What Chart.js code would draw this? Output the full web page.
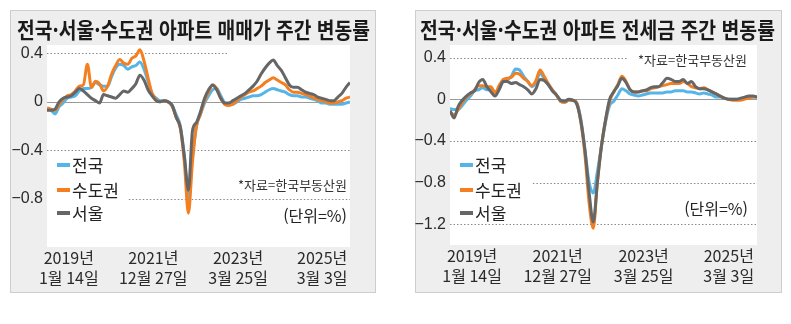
<!DOCTYPE html>
<html lang="ko">
<head>
<meta charset="utf-8">
<script src="https://cdn.jsdelivr.net/npm/chart.js@4.4.1/dist/chart.umd.min.js"></script>
<style>
  body { margin: 0; width: 791px; height: 324px; background: #fff; position: relative; overflow: hidden;
         font-family: "Noto Sans CJK KR", sans-serif; color: #222; }
  .panel { position: absolute; top: 10px; height: 283px; background: #eeeeee; border: 1px solid #cdcdcd; box-sizing: border-box; }
  canvas { position: absolute; top: 10px; }
  .title { position: absolute; top: 13px; font-size: 22px; line-height: 30px; font-weight: 700; color: #1a1a1a;
           white-space: nowrap; transform-origin: left center; }
  .txt { position: absolute; white-space: nowrap; line-height: 1; }
  .legend .item { position: absolute; font-size: 17px; line-height: 17px; color: #222; white-space: nowrap; }
  .legend .mark { position: absolute; top: 7px; width: 13px; height: 4px; }
</style>
</head>
<body>

<div class="panel" style="left:10px; width:366px;"></div>
<div class="panel" style="left:415px; width:367px;"></div>
<canvas id="saleChart" style="left:10px;" width="366" height="283"></canvas>
<canvas id="jeonseChart" style="left:415px;" width="367" height="283"></canvas>

<div class="title" id="saleTitle" style="left:17px;" data-w="353">전국·서울·수도권 아파트 매매가 주간 변동률</div>
<div class="title" id="jeonseTitle" style="left:420px;" data-w="355">전국·서울·수도권 아파트 전세금 주간 변동률</div>

<div class="legend" id="saleLegend" style="position:absolute; left:57px; top:156px;"></div>
<div class="legend" id="jeonseLegend" style="position:absolute; left:460px; top:156px;"></div>

<div class="txt" style="right:444px; top:178px; font-size:13px; color:#333;">*자료=한국부동산원</div>
<div class="txt" style="right:444px; top:207px; font-size:16px; color:#222;">(단위=%)</div>
<div class="txt" style="right:44px; top:53px; font-size:13px; color:#333;">*자료=한국부동산원</div>
<div class="txt" style="right:43px; top:200px; font-size:16px; color:#222;">(단위=%)</div>

<script>
const seriesNames = ['전국', '수도권', '서울'];
const seriesColors = ['#55b5e8', '#f47f20', '#666666'];

// weekly change rate (%), 매매가
const saleNational = [-0.06, -0.07, -0.10, -0.04, -0.01, 0.03, 0.04, 0.05, 0.09, 0.11, 0.11, 0.12, 0.16, 0.14, 0.13, 0.13,
  0.21, 0.28, 0.31, 0.30, 0.27, 0.29, 0.30, 0.33, 0.27, 0.17, 0.07, 0.03, 0.01, 0.01, 0.00, -0.03,
  -0.11, -0.20, -0.45, -0.80, -0.45, -0.20, -0.10, -0.01, 0.05, 0.10, 0.11, 0.05, -0.01, -0.02, -0.02, 0.00,
  0.02, 0.03, 0.04, 0.05, 0.05, 0.06, 0.08, 0.10, 0.11, 0.10, 0.09, 0.08, 0.06, 0.05, 0.05, 0.04,
  0.04, 0.03, 0.02, 0.01, -0.01, -0.01, -0.02, -0.02, -0.02, -0.02, -0.01, 0.00];
const saleCapital = [-0.05, -0.06, -0.07, -0.02, 0.02, 0.05, 0.06, 0.09, 0.13, 0.14, 0.31, 0.12, 0.17, 0.15, 0.09, 0.13,
  0.23, 0.30, 0.35, 0.32, 0.31, 0.36, 0.38, 0.43, 0.34, 0.20, 0.07, 0.02, 0.00, 0.01, 0.00, -0.04,
  -0.13, -0.22, -0.50, -0.92, -0.50, -0.20, -0.10, 0.01, 0.08, 0.14, 0.11, 0.03, -0.02, -0.03, -0.02, 0.01,
  0.04, 0.06, 0.08, 0.09, 0.11, 0.13, 0.16, 0.18, 0.20, 0.18, 0.16, 0.14, 0.10, 0.08, 0.08, 0.07,
  0.06, 0.05, 0.03, 0.02, 0.01, 0.00, -0.01, -0.01, 0.00, 0.01, 0.03, 0.04];
const saleSeoul = [-0.07, -0.07, -0.06, 0.00, 0.03, 0.04, 0.05, 0.08, 0.11, 0.09, 0.06, 0.03, 0.01, -0.01, 0.06, 0.05,
  0.04, 0.03, 0.06, 0.09, 0.08, 0.11, 0.15, 0.22, 0.18, 0.10, 0.05, 0.01, 0.00, 0.01, 0.00, -0.03,
  -0.13, -0.21, -0.45, -0.73, -0.24, -0.17, -0.08, 0.03, 0.10, 0.14, 0.10, 0.03, -0.01, -0.01, 0.01, 0.03,
  0.05, 0.07, 0.10, 0.13, 0.17, 0.23, 0.28, 0.32, 0.345, 0.30, 0.26, 0.20, 0.14, 0.12, 0.12, 0.10,
  0.08, 0.07, 0.06, 0.04, 0.03, 0.02, 0.01, 0.01, 0.04, 0.07, 0.12, 0.16];

// weekly change rate (%), 전세금
const jeonseNational = [-0.09, -0.10, -0.10, -0.06, -0.01, 0.03, 0.08, 0.09, 0.11, 0.09, 0.10, 0.07, 0.10, 0.17, 0.19, 0.22,
  0.29, 0.28, 0.22, 0.17, 0.12, 0.16, 0.25, 0.20, 0.14, 0.09, 0.04, -0.02, -0.03, -0.01, -0.01, -0.04,
  -0.20, -0.50, -0.80, -0.90, -0.70, -0.45, -0.22, -0.06, -0.02, 0.04, 0.10, 0.08, 0.05, 0.04, 0.03, 0.04,
  0.05, 0.06, 0.06, 0.06, 0.06, 0.07, 0.07, 0.08, 0.08, 0.08, 0.07, 0.07, 0.06, 0.05, 0.06, 0.05,
  0.04, 0.02, 0.02, 0.01, 0.00, 0.00, 0.00, 0.00, 0.01, 0.02, 0.02, 0.02];
const jeonseCapital = [-0.12, -0.15, -0.10, -0.03, 0.02, 0.05, 0.09, 0.13, 0.13, 0.12, 0.12, 0.06, 0.13, 0.19, 0.20, 0.21,
  0.25, 0.24, 0.20, 0.17, 0.13, 0.18, 0.28, 0.22, 0.15, 0.09, 0.04, -0.02, -0.03, -0.01, -0.01, -0.04,
  -0.23, -0.55, -1.00, -1.24, -0.80, -0.45, -0.20, -0.02, 0.07, 0.14, 0.22, 0.17, 0.09, 0.07, 0.07, 0.08,
  0.08, 0.10, 0.11, 0.12, 0.13, 0.14, 0.15, 0.15, 0.15, 0.17, 0.15, 0.12, 0.11, 0.10, 0.11, 0.09,
  0.07, 0.05, 0.03, 0.01, 0.00, -0.01, -0.01, -0.01, 0.00, 0.01, 0.02, 0.02];
const jeonseSeoul = [-0.11, -0.18, -0.07, -0.01, 0.03, 0.06, 0.08, 0.16, 0.19, 0.12, 0.07, 0.03, 0.09, 0.17, 0.17, 0.15,
  0.16, 0.14, 0.12, 0.09, 0.05, 0.10, 0.19, 0.18, 0.14, 0.08, 0.04, -0.01, -0.02, 0.00, -0.01, -0.05,
  -0.22, -0.50, -0.90, -1.18, -0.80, -0.45, -0.20, 0.00, 0.07, 0.13, 0.20, 0.16, 0.09, 0.07, 0.07, 0.08,
  0.09, 0.11, 0.12, 0.12, 0.16, 0.20, 0.19, 0.17, 0.17, 0.19, 0.15, 0.17, 0.12, 0.10, 0.10, 0.09,
  0.07, 0.05, 0.03, 0.01, 0.00, 0.00, 0.00, 0.01, 0.02, 0.03, 0.03, 0.02];

const tickWeeks = [5.4, 26.3, 47.3, 68.1];
const tickLabels = [['2019년', '1월 14일'], ['2021년', '12월 27일'], ['2023년', '3월 25일'], ['2025년', '3월 3일']];
const saleYTicks = [0.4, 0, -0.4, -0.8];
const jeonseYTicks = [0.4, 0, -0.4, -0.8, -1.2];

const fmt = v => (v < 0 ? '\u2212' : '') + Math.abs(v).toString();

// white plot area + dotted guide lines that stop short where text sits
const plotDecor = {
  id: 'plotDecor',
  beforeDatasetsDraw(chart, args, opts) {
    const { ctx, chartArea: a, scales: { y } } = chart;
    ctx.save();
    ctx.fillStyle = '#ffffff';
    ctx.fillRect(a.left, a.top, a.width, a.height);
    opts.lines.forEach(g => {
      const py = Math.round(y.getPixelForValue(g.value)) + 0.5;
      ctx.beginPath();
      if (g.value === 0) {
        ctx.setLineDash([]);
        ctx.strokeStyle = '#9a9a9a';
        ctx.lineWidth = 1.2;
      } else {
        ctx.setLineDash([1.5, 2]);
        ctx.strokeStyle = '#8a8a8a';
        ctx.lineWidth = 1;
      }
      ctx.moveTo(a.left + a.width * g.from, py);
      ctx.lineTo(a.left + a.width * g.to, py);
      ctx.stroke();
    });
    ctx.restore();
  }
};

const makeChart = (id, series, yTicks, yMin, yMax, lines, pad) => new Chart(document.getElementById(id), {
  type: 'line',
  data: {
    datasets: series.map((s, k) => ({
      label: seriesNames[k],
      data: s.map((v, i) => ({ x: i, y: v })),
      borderColor: seriesColors[k],
      borderWidth: 3,
      pointRadius: 0,
      cubicInterpolationMode: 'monotone',
      borderJoinStyle: 'round',
      order: 3 - k
    }))
  },
  options: {
    responsive: false,
    animation: false,
    layout: { padding: { top: 35, right: pad.right, left: 0, bottom: 0 } },
    plugins: { legend: { display: false }, tooltip: { enabled: false }, plotDecor: { lines } },
    scales: {
      x: {
        type: 'linear', min: 0, max: series[0].length - 1,
        grid: { display: false, drawTicks: false }, border: { display: false },
        afterBuildTicks: sc => { sc.ticks = tickWeeks.map(v => ({ value: v })); },
        afterFit: sc => { sc.height = pad.xHeight; },
        ticks: {
          autoSkip: false, maxRotation: 0, padding: 1, color: '#2a2a2a',
          font: { family: "'Liberation Sans Narrow', 'Noto Sans CJK KR'", size: 16, lineHeight: 1.25 },
          callback: v => tickLabels[tickWeeks.indexOf(v)]
        }
      },
      y: {
        min: yMin, max: yMax,
        grid: { display: false, drawTicks: false }, border: { display: false },
        afterBuildTicks: sc => { sc.ticks = yTicks.map(v => ({ value: v })); },
        afterFit: sc => { sc.width = pad.yWidth; },
        ticks: {
          padding: 4, color: '#2a2a2a',
          font: { family: "'Liberation Sans Narrow', 'Liberation Sans'", size: 16 },
          callback: v => fmt(v)
        }
      }
    }
  },
  plugins: [plotDecor]
});

const saleChart = makeChart('saleChart', [saleNational, saleCapital, saleSeoul], saleYTicks, -1.2, 0.47,
  [{ value: 0.4, from: 0, to: 0.6 }, { value: 0, from: 0, to: 1 }, { value: -0.4, from: 0, to: 1 }, { value: -0.8, from: 0.27, to: 1 }],
  { right: 26, yWidth: 37, xHeight: 46 });

const jeonseChart = makeChart('jeonseChart', [jeonseNational, jeonseCapital, jeonseSeoul], jeonseYTicks, -1.4, 0.52,
  [{ value: 0.4, from: 0, to: 0.58 }, { value: 0, from: 0, to: 1 }, { value: -0.4, from: 0, to: 1 },
   { value: -0.8, from: 0.27, to: 1 }, { value: -1.2, from: 0, to: 1 }],
  { right: 25, yWidth: 35, xHeight: 48 });

// legends
['saleLegend', 'jeonseLegend'].forEach(id => {
  const box = document.getElementById(id);
  const rows = [0, 25, 48];
  seriesNames.forEach((name, k) => {
    const item = document.createElement('div');
    item.className = 'item';
    item.style.top = rows[k] + 'px';
    item.style.left = '0px';
    item.innerHTML = `<span class="mark" style="background:${seriesColors[k]}"></span><span style="margin-left:15px">${name}</span>`;
    box.appendChild(item);
  });
});

// squeeze titles into their bars
document.querySelectorAll('.title').forEach(t => {
  const target = +t.dataset.w;
  t.style.transform = `scaleX(${target / t.getBoundingClientRect().width})`;
});
</script>
</body>
</html>
